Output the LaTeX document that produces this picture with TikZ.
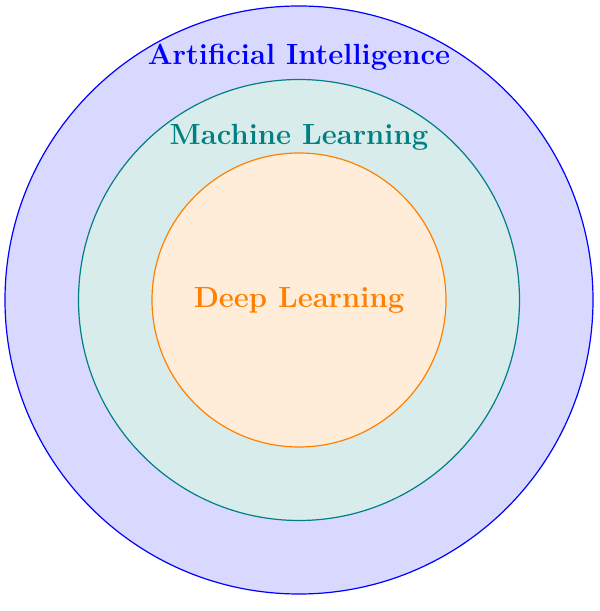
\documentclass[tikz,border=0pt]{standalone}
\tikzset{every picture/.style={line width=0.5pt}}

\begin{document}
\begin{tikzpicture}
    [
    x=1pt, y=1pt,
    ring/.style={
        draw,
        circle,
        line width=1.2pt,
        inner sep=0pt
    },
    label/.style={
        font=\fontsize{21}{25}\selectfont\bfseries,
        scale=1.39
    },
    ]

    \useasboundingbox (0,0) rectangle (600,611);

    \node[ring, draw=blue, fill=blue!15, minimum size=588] (ai) at (299,311) {};
    \node[ring, draw=teal, fill=teal!15, minimum size=441] (ml) at (299,311) {};
    \node[ring, draw=orange, fill=orange!15, minimum size=294] (dl) at (299,311) {};

    \node[label, text=blue] (ailabel) at (299,554) {Artificial Intelligence};
    \node[label, text=teal] (mllabel) at (299,474) {Machine Learning};
    \node[label, text=orange] (dllabel) at (dl) {Deep Learning};

\end{tikzpicture}
\end{document}
